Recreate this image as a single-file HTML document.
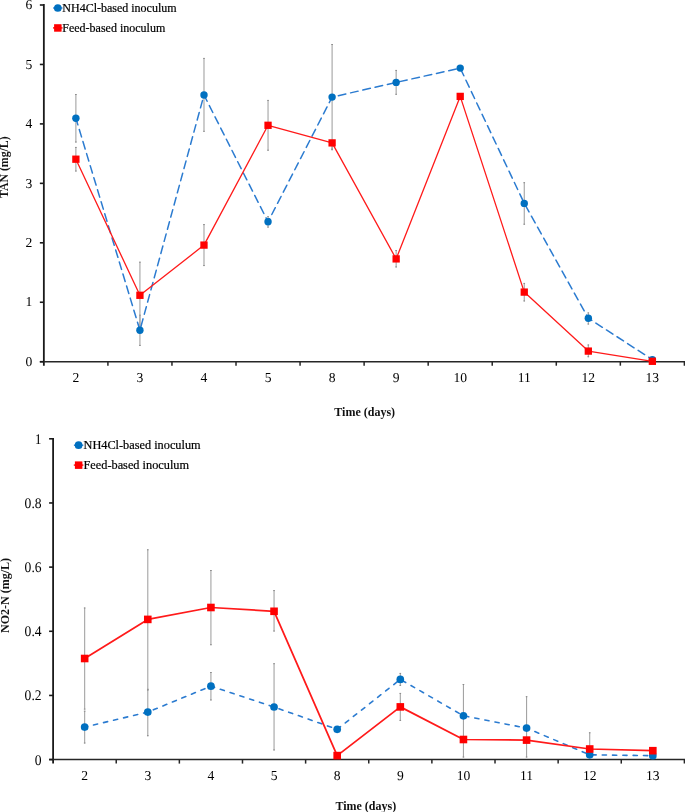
<!DOCTYPE html>
<html><head><meta charset="utf-8"><title>TAN and NO2-N chart</title>
<style>
html,body{margin:0;padding:0;background:#fff;}
body{width:685px;height:812px;overflow:hidden;}
svg{display:block;}
.t{font-family:"Liberation Serif",serif;font-size:13.6px;fill:#000;text-rendering:geometricPrecision;}
.l{font-family:"Liberation Serif",serif;font-size:12px;fill:#000;stroke:#000;stroke-width:0.2px;}
.b{font-family:"Liberation Serif",serif;font-size:12px;font-weight:bold;fill:#111;}
</style></head><body>
<svg width="685" height="812" viewBox="0 0 685 812">
<line x1="75.88" y1="94.00" x2="75.88" y2="142.50" stroke="#a3a3a3" stroke-width="1.1"/>
<line x1="75.08" y1="94.50" x2="76.68" y2="94.50" stroke="#8a8a8a" stroke-width="1"/>
<line x1="75.08" y1="142.00" x2="76.68" y2="142.00" stroke="#8a8a8a" stroke-width="1"/>
<line x1="139.93" y1="314.70" x2="139.93" y2="345.90" stroke="#a3a3a3" stroke-width="1.1"/>
<line x1="139.13" y1="315.20" x2="140.73" y2="315.20" stroke="#8a8a8a" stroke-width="1"/>
<line x1="139.13" y1="345.40" x2="140.73" y2="345.40" stroke="#8a8a8a" stroke-width="1"/>
<line x1="203.99" y1="57.90" x2="203.99" y2="131.80" stroke="#a3a3a3" stroke-width="1.1"/>
<line x1="203.19" y1="58.40" x2="204.79" y2="58.40" stroke="#8a8a8a" stroke-width="1"/>
<line x1="203.19" y1="131.30" x2="204.79" y2="131.30" stroke="#8a8a8a" stroke-width="1"/>
<line x1="268.04" y1="216.20" x2="268.04" y2="227.60" stroke="#a3a3a3" stroke-width="1.1"/>
<line x1="267.24" y1="216.70" x2="268.84" y2="216.70" stroke="#8a8a8a" stroke-width="1"/>
<line x1="267.24" y1="227.10" x2="268.84" y2="227.10" stroke="#8a8a8a" stroke-width="1"/>
<line x1="332.10" y1="44.00" x2="332.10" y2="150.20" stroke="#a3a3a3" stroke-width="1.1"/>
<line x1="331.30" y1="44.50" x2="332.90" y2="44.50" stroke="#8a8a8a" stroke-width="1"/>
<line x1="331.30" y1="149.70" x2="332.90" y2="149.70" stroke="#8a8a8a" stroke-width="1"/>
<line x1="396.15" y1="69.90" x2="396.15" y2="94.80" stroke="#a3a3a3" stroke-width="1.1"/>
<line x1="395.35" y1="70.40" x2="396.95" y2="70.40" stroke="#8a8a8a" stroke-width="1"/>
<line x1="395.35" y1="94.30" x2="396.95" y2="94.30" stroke="#8a8a8a" stroke-width="1"/>
<line x1="524.26" y1="182.20" x2="524.26" y2="224.70" stroke="#a3a3a3" stroke-width="1.1"/>
<line x1="523.46" y1="182.70" x2="525.06" y2="182.70" stroke="#8a8a8a" stroke-width="1"/>
<line x1="523.46" y1="224.20" x2="525.06" y2="224.20" stroke="#8a8a8a" stroke-width="1"/>
<line x1="588.32" y1="312.40" x2="588.32" y2="324.50" stroke="#a3a3a3" stroke-width="1.1"/>
<line x1="587.52" y1="312.90" x2="589.12" y2="312.90" stroke="#8a8a8a" stroke-width="1"/>
<line x1="587.52" y1="324.00" x2="589.12" y2="324.00" stroke="#8a8a8a" stroke-width="1"/>
<line x1="75.88" y1="146.90" x2="75.88" y2="171.50" stroke="#a3a3a3" stroke-width="1.1"/>
<line x1="75.08" y1="147.40" x2="76.68" y2="147.40" stroke="#8a8a8a" stroke-width="1"/>
<line x1="75.08" y1="171.00" x2="76.68" y2="171.00" stroke="#8a8a8a" stroke-width="1"/>
<line x1="139.93" y1="261.70" x2="139.93" y2="328.90" stroke="#a3a3a3" stroke-width="1.1"/>
<line x1="139.13" y1="262.20" x2="140.73" y2="262.20" stroke="#8a8a8a" stroke-width="1"/>
<line x1="139.13" y1="328.40" x2="140.73" y2="328.40" stroke="#8a8a8a" stroke-width="1"/>
<line x1="203.99" y1="224.10" x2="203.99" y2="266.10" stroke="#a3a3a3" stroke-width="1.1"/>
<line x1="203.19" y1="224.60" x2="204.79" y2="224.60" stroke="#8a8a8a" stroke-width="1"/>
<line x1="203.19" y1="265.60" x2="204.79" y2="265.60" stroke="#8a8a8a" stroke-width="1"/>
<line x1="268.04" y1="99.90" x2="268.04" y2="150.70" stroke="#a3a3a3" stroke-width="1.1"/>
<line x1="267.24" y1="100.40" x2="268.84" y2="100.40" stroke="#8a8a8a" stroke-width="1"/>
<line x1="267.24" y1="150.20" x2="268.84" y2="150.20" stroke="#8a8a8a" stroke-width="1"/>
<line x1="332.10" y1="142.90" x2="332.10" y2="149.60" stroke="#a3a3a3" stroke-width="1.1"/>
<line x1="331.30" y1="149.10" x2="332.90" y2="149.10" stroke="#8a8a8a" stroke-width="1"/>
<line x1="396.15" y1="250.00" x2="396.15" y2="267.40" stroke="#a3a3a3" stroke-width="1.1"/>
<line x1="395.35" y1="250.50" x2="396.95" y2="250.50" stroke="#8a8a8a" stroke-width="1"/>
<line x1="395.35" y1="266.90" x2="396.95" y2="266.90" stroke="#8a8a8a" stroke-width="1"/>
<line x1="524.26" y1="282.90" x2="524.26" y2="301.40" stroke="#a3a3a3" stroke-width="1.1"/>
<line x1="523.46" y1="283.40" x2="525.06" y2="283.40" stroke="#8a8a8a" stroke-width="1"/>
<line x1="523.46" y1="300.90" x2="525.06" y2="300.90" stroke="#8a8a8a" stroke-width="1"/>
<line x1="588.32" y1="344.50" x2="588.32" y2="357.20" stroke="#a3a3a3" stroke-width="1.1"/>
<line x1="587.52" y1="345.00" x2="589.12" y2="345.00" stroke="#8a8a8a" stroke-width="1"/>
<line x1="587.52" y1="356.70" x2="589.12" y2="356.70" stroke="#8a8a8a" stroke-width="1"/>
<line x1="43.85" y1="4.10" x2="43.85" y2="365.70" stroke="#1a1a1a" stroke-width="1.8"/>
<line x1="39.85" y1="361.70" x2="685" y2="361.70" stroke="#262626" stroke-width="1.5"/>
<line x1="39.85" y1="361.70" x2="43.85" y2="361.70" stroke="#1a1a1a" stroke-width="1.6"/>
<text transform="translate(32.35,365.90) scale(1,1)" class="t" text-anchor="end">0</text>
<line x1="39.85" y1="302.25" x2="43.85" y2="302.25" stroke="#1a1a1a" stroke-width="1.6"/>
<text transform="translate(32.35,306.45) scale(1,1)" class="t" text-anchor="end">1</text>
<line x1="39.85" y1="242.80" x2="43.85" y2="242.80" stroke="#1a1a1a" stroke-width="1.6"/>
<text transform="translate(32.35,247.00) scale(1,1)" class="t" text-anchor="end">2</text>
<line x1="39.85" y1="183.35" x2="43.85" y2="183.35" stroke="#1a1a1a" stroke-width="1.6"/>
<text transform="translate(32.35,187.55) scale(1,1)" class="t" text-anchor="end">3</text>
<line x1="39.85" y1="123.90" x2="43.85" y2="123.90" stroke="#1a1a1a" stroke-width="1.6"/>
<text transform="translate(32.35,128.10) scale(1,1)" class="t" text-anchor="end">4</text>
<line x1="39.85" y1="64.45" x2="43.85" y2="64.45" stroke="#1a1a1a" stroke-width="1.6"/>
<text transform="translate(32.35,68.65) scale(1,1)" class="t" text-anchor="end">5</text>
<line x1="39.85" y1="5.00" x2="43.85" y2="5.00" stroke="#1a1a1a" stroke-width="1.6"/>
<text transform="translate(32.35,9.20) scale(1,1)" class="t" text-anchor="end">6</text>
<line x1="107.91" y1="361.70" x2="107.91" y2="365.70" stroke="#262626" stroke-width="1.5"/>
<line x1="171.96" y1="361.70" x2="171.96" y2="365.70" stroke="#262626" stroke-width="1.5"/>
<line x1="236.01" y1="361.70" x2="236.01" y2="365.70" stroke="#262626" stroke-width="1.5"/>
<line x1="300.07" y1="361.70" x2="300.07" y2="365.70" stroke="#262626" stroke-width="1.5"/>
<line x1="364.12" y1="361.70" x2="364.12" y2="365.70" stroke="#262626" stroke-width="1.5"/>
<line x1="428.18" y1="361.70" x2="428.18" y2="365.70" stroke="#262626" stroke-width="1.5"/>
<line x1="492.23" y1="361.70" x2="492.23" y2="365.70" stroke="#262626" stroke-width="1.5"/>
<line x1="556.29" y1="361.70" x2="556.29" y2="365.70" stroke="#262626" stroke-width="1.5"/>
<line x1="620.34" y1="361.70" x2="620.34" y2="365.70" stroke="#262626" stroke-width="1.5"/>
<line x1="684.40" y1="361.70" x2="684.40" y2="365.70" stroke="#262626" stroke-width="1.5"/>
<text x="75.88" y="382.20" class="t" text-anchor="middle">2</text>
<text x="139.93" y="382.20" class="t" text-anchor="middle">3</text>
<text x="203.99" y="382.20" class="t" text-anchor="middle">4</text>
<text x="268.04" y="382.20" class="t" text-anchor="middle">5</text>
<text x="332.10" y="382.20" class="t" text-anchor="middle">8</text>
<text x="396.15" y="382.20" class="t" text-anchor="middle">9</text>
<text x="460.21" y="382.20" class="t" text-anchor="middle">10</text>
<text x="524.26" y="382.20" class="t" text-anchor="middle">11</text>
<text x="588.32" y="382.20" class="t" text-anchor="middle">12</text>
<text x="652.37" y="382.20" class="t" text-anchor="middle">13</text>
<polyline points="75.88,118.20 139.93,330.30 203.99,95.00 268.04,221.80 332.10,97.10 396.15,82.40 460.21,68.10 524.26,203.40 588.32,318.20 652.37,359.60" fill="none" stroke="#2b7bd0" stroke-width="1.5" stroke-dasharray="7.7,4.88" stroke-dashoffset="0.75" stroke-linecap="round"/>
<circle cx="75.88" cy="118.20" r="3.7" fill="#0070c0"/>
<circle cx="139.93" cy="330.30" r="3.7" fill="#0070c0"/>
<circle cx="203.99" cy="95.00" r="3.7" fill="#0070c0"/>
<circle cx="268.04" cy="221.80" r="3.7" fill="#0070c0"/>
<circle cx="332.10" cy="97.10" r="3.7" fill="#0070c0"/>
<circle cx="396.15" cy="82.40" r="3.7" fill="#0070c0"/>
<circle cx="460.21" cy="68.10" r="3.7" fill="#0070c0"/>
<circle cx="524.26" cy="203.40" r="3.7" fill="#0070c0"/>
<circle cx="588.32" cy="318.20" r="3.7" fill="#0070c0"/>
<circle cx="652.37" cy="359.60" r="3.7" fill="#0070c0"/>
<polyline points="75.88,159.20 139.93,295.30 203.99,245.10 268.04,125.30 332.10,142.90 396.15,258.90 460.21,96.40 524.26,292.10 588.32,351.10 652.37,361.30" fill="none" stroke="#ff1a1a" stroke-width="1.3" stroke-linejoin="round"/>
<rect x="72.23" y="155.55" width="7.3" height="7.3" fill="#ff0000"/>
<rect x="136.28" y="291.65" width="7.3" height="7.3" fill="#ff0000"/>
<rect x="200.34" y="241.45" width="7.3" height="7.3" fill="#ff0000"/>
<rect x="264.39" y="121.65" width="7.3" height="7.3" fill="#ff0000"/>
<rect x="328.45" y="139.25" width="7.3" height="7.3" fill="#ff0000"/>
<rect x="392.50" y="255.25" width="7.3" height="7.3" fill="#ff0000"/>
<rect x="456.56" y="92.75" width="7.3" height="7.3" fill="#ff0000"/>
<rect x="520.61" y="288.45" width="7.3" height="7.3" fill="#ff0000"/>
<rect x="584.67" y="347.45" width="7.3" height="7.3" fill="#ff0000"/>
<rect x="648.72" y="357.65" width="7.3" height="7.3" fill="#ff0000"/>
<text transform="translate(8.4,167.20) rotate(-90)" class="b" text-anchor="middle" style="font-size:11.8px">TAN (mg/L)</text>
<text x="364.7" y="415.50" class="b" text-anchor="middle">Time (days)</text>
<line x1="53.10" y1="8.00" x2="62.50" y2="8.00" stroke="#2b7bd0" stroke-width="1.4"/>
<circle cx="57.80" cy="8.00" r="3.85" fill="#0070c0"/>
<text x="62.30" y="11.80" class="l" style="font-size:12px">NH4Cl-based inoculum</text>
<line x1="53.00" y1="27.90" x2="62.60" y2="27.90" stroke="#ff1a1a" stroke-width="1.5"/>
<rect x="54.10" y="24.20" width="7.5" height="7.5" fill="#ff0000"/>
<text x="62.30" y="31.80" class="l" style="font-size:12px">Feed-based inoculum</text>
<line x1="84.66" y1="710.70" x2="84.66" y2="743.50" stroke="#a3a3a3" stroke-width="1.1"/>
<line x1="83.86" y1="711.20" x2="85.46" y2="711.20" stroke="#8a8a8a" stroke-width="1"/>
<line x1="83.86" y1="743.00" x2="85.46" y2="743.00" stroke="#8a8a8a" stroke-width="1"/>
<line x1="147.79" y1="688.80" x2="147.79" y2="736.20" stroke="#a3a3a3" stroke-width="1.1"/>
<line x1="146.99" y1="689.30" x2="148.59" y2="689.30" stroke="#8a8a8a" stroke-width="1"/>
<line x1="146.99" y1="735.70" x2="148.59" y2="735.70" stroke="#8a8a8a" stroke-width="1"/>
<line x1="210.92" y1="672.00" x2="210.92" y2="700.40" stroke="#a3a3a3" stroke-width="1.1"/>
<line x1="210.12" y1="672.50" x2="211.72" y2="672.50" stroke="#8a8a8a" stroke-width="1"/>
<line x1="210.12" y1="699.90" x2="211.72" y2="699.90" stroke="#8a8a8a" stroke-width="1"/>
<line x1="274.06" y1="663.20" x2="274.06" y2="750.40" stroke="#a3a3a3" stroke-width="1.1"/>
<line x1="273.25" y1="663.70" x2="274.86" y2="663.70" stroke="#8a8a8a" stroke-width="1"/>
<line x1="273.25" y1="749.90" x2="274.86" y2="749.90" stroke="#8a8a8a" stroke-width="1"/>
<line x1="400.31" y1="672.90" x2="400.31" y2="685.90" stroke="#a3a3a3" stroke-width="1.1"/>
<line x1="399.51" y1="673.40" x2="401.12" y2="673.40" stroke="#8a8a8a" stroke-width="1"/>
<line x1="399.51" y1="685.40" x2="401.12" y2="685.40" stroke="#8a8a8a" stroke-width="1"/>
<line x1="463.44" y1="684.00" x2="463.44" y2="757.50" stroke="#a3a3a3" stroke-width="1.1"/>
<line x1="462.64" y1="684.50" x2="464.25" y2="684.50" stroke="#8a8a8a" stroke-width="1"/>
<line x1="462.64" y1="757.00" x2="464.25" y2="757.00" stroke="#8a8a8a" stroke-width="1"/>
<line x1="526.57" y1="696.20" x2="526.57" y2="757.50" stroke="#a3a3a3" stroke-width="1.1"/>
<line x1="525.77" y1="696.70" x2="527.37" y2="696.70" stroke="#8a8a8a" stroke-width="1"/>
<line x1="525.77" y1="757.00" x2="527.37" y2="757.00" stroke="#8a8a8a" stroke-width="1"/>
<line x1="84.66" y1="607.50" x2="84.66" y2="709.60" stroke="#a3a3a3" stroke-width="1.1"/>
<line x1="83.86" y1="608.00" x2="85.46" y2="608.00" stroke="#8a8a8a" stroke-width="1"/>
<line x1="83.86" y1="709.10" x2="85.46" y2="709.10" stroke="#8a8a8a" stroke-width="1"/>
<line x1="147.79" y1="549.30" x2="147.79" y2="690.50" stroke="#a3a3a3" stroke-width="1.1"/>
<line x1="146.99" y1="549.80" x2="148.59" y2="549.80" stroke="#8a8a8a" stroke-width="1"/>
<line x1="146.99" y1="690.00" x2="148.59" y2="690.00" stroke="#8a8a8a" stroke-width="1"/>
<line x1="210.92" y1="570.00" x2="210.92" y2="645.20" stroke="#a3a3a3" stroke-width="1.1"/>
<line x1="210.12" y1="570.50" x2="211.72" y2="570.50" stroke="#8a8a8a" stroke-width="1"/>
<line x1="210.12" y1="644.70" x2="211.72" y2="644.70" stroke="#8a8a8a" stroke-width="1"/>
<line x1="274.06" y1="590.10" x2="274.06" y2="631.50" stroke="#a3a3a3" stroke-width="1.1"/>
<line x1="273.25" y1="590.60" x2="274.86" y2="590.60" stroke="#8a8a8a" stroke-width="1"/>
<line x1="273.25" y1="631.00" x2="274.86" y2="631.00" stroke="#8a8a8a" stroke-width="1"/>
<line x1="400.31" y1="692.90" x2="400.31" y2="720.90" stroke="#a3a3a3" stroke-width="1.1"/>
<line x1="399.51" y1="693.40" x2="401.12" y2="693.40" stroke="#8a8a8a" stroke-width="1"/>
<line x1="399.51" y1="720.40" x2="401.12" y2="720.40" stroke="#8a8a8a" stroke-width="1"/>
<line x1="589.71" y1="732.30" x2="589.71" y2="749.00" stroke="#a3a3a3" stroke-width="1.1"/>
<line x1="588.91" y1="732.80" x2="590.50" y2="732.80" stroke="#8a8a8a" stroke-width="1"/>
<line x1="53.10" y1="437.90" x2="53.10" y2="763.60" stroke="#1a1a1a" stroke-width="1.8"/>
<line x1="49.10" y1="759.60" x2="685" y2="759.60" stroke="#262626" stroke-width="1.5"/>
<line x1="49.10" y1="759.60" x2="53.10" y2="759.60" stroke="#1a1a1a" stroke-width="1.6"/>
<text transform="translate(41.60,764.50) scale(1,1.08)" class="t" text-anchor="end">0</text>
<line x1="49.10" y1="695.44" x2="53.10" y2="695.44" stroke="#1a1a1a" stroke-width="1.6"/>
<text transform="translate(41.60,700.34) scale(1,1.08)" class="t" text-anchor="end">0.2</text>
<line x1="49.10" y1="631.28" x2="53.10" y2="631.28" stroke="#1a1a1a" stroke-width="1.6"/>
<text transform="translate(41.60,636.18) scale(1,1.08)" class="t" text-anchor="end">0.4</text>
<line x1="49.10" y1="567.12" x2="53.10" y2="567.12" stroke="#1a1a1a" stroke-width="1.6"/>
<text transform="translate(41.60,572.02) scale(1,1.08)" class="t" text-anchor="end">0.6</text>
<line x1="49.10" y1="502.96" x2="53.10" y2="502.96" stroke="#1a1a1a" stroke-width="1.6"/>
<text transform="translate(41.60,507.86) scale(1,1.08)" class="t" text-anchor="end">0.8</text>
<line x1="49.10" y1="438.80" x2="53.10" y2="438.80" stroke="#1a1a1a" stroke-width="1.6"/>
<text transform="translate(41.60,443.70) scale(1,1.08)" class="t" text-anchor="end">1</text>
<line x1="116.23" y1="759.60" x2="116.23" y2="763.60" stroke="#262626" stroke-width="1.5"/>
<line x1="179.36" y1="759.60" x2="179.36" y2="763.60" stroke="#262626" stroke-width="1.5"/>
<line x1="242.49" y1="759.60" x2="242.49" y2="763.60" stroke="#262626" stroke-width="1.5"/>
<line x1="305.62" y1="759.60" x2="305.62" y2="763.60" stroke="#262626" stroke-width="1.5"/>
<line x1="368.75" y1="759.60" x2="368.75" y2="763.60" stroke="#262626" stroke-width="1.5"/>
<line x1="431.88" y1="759.60" x2="431.88" y2="763.60" stroke="#262626" stroke-width="1.5"/>
<line x1="495.01" y1="759.60" x2="495.01" y2="763.60" stroke="#262626" stroke-width="1.5"/>
<line x1="558.14" y1="759.60" x2="558.14" y2="763.60" stroke="#262626" stroke-width="1.5"/>
<line x1="621.27" y1="759.60" x2="621.27" y2="763.60" stroke="#262626" stroke-width="1.5"/>
<line x1="684.40" y1="759.60" x2="684.40" y2="763.60" stroke="#262626" stroke-width="1.5"/>
<text x="84.66" y="780.10" class="t" text-anchor="middle">2</text>
<text x="147.79" y="780.10" class="t" text-anchor="middle">3</text>
<text x="210.92" y="780.10" class="t" text-anchor="middle">4</text>
<text x="274.06" y="780.10" class="t" text-anchor="middle">5</text>
<text x="337.19" y="780.10" class="t" text-anchor="middle">8</text>
<text x="400.31" y="780.10" class="t" text-anchor="middle">9</text>
<text x="463.44" y="780.10" class="t" text-anchor="middle">10</text>
<text x="526.57" y="780.10" class="t" text-anchor="middle">11</text>
<text x="589.71" y="780.10" class="t" text-anchor="middle">12</text>
<text x="652.83" y="780.10" class="t" text-anchor="middle">13</text>
<polyline points="84.66,727.10 147.79,712.10 210.92,686.20 274.06,707.00 337.19,729.30 400.31,679.40 463.44,715.80 526.57,728.10 589.71,754.80 652.83,755.70" fill="none" stroke="#2b7bd0" stroke-width="1.6" stroke-dasharray="4.2,6.1" stroke-dashoffset="1.20" stroke-linecap="round"/>
<circle cx="84.66" cy="727.10" r="3.85" fill="#0070c0"/>
<circle cx="147.79" cy="712.10" r="3.85" fill="#0070c0"/>
<circle cx="210.92" cy="686.20" r="3.85" fill="#0070c0"/>
<circle cx="274.06" cy="707.00" r="3.85" fill="#0070c0"/>
<circle cx="337.19" cy="729.30" r="3.85" fill="#0070c0"/>
<circle cx="400.31" cy="679.40" r="3.85" fill="#0070c0"/>
<circle cx="463.44" cy="715.80" r="3.85" fill="#0070c0"/>
<circle cx="526.57" cy="728.10" r="3.85" fill="#0070c0"/>
<circle cx="589.71" cy="754.80" r="3.85" fill="#0070c0"/>
<circle cx="652.83" cy="755.70" r="3.85" fill="#0070c0"/>
<polyline points="84.66,658.50 147.79,619.40 210.92,607.50 274.06,611.30 337.19,755.60 400.31,706.90 463.44,739.50 526.57,740.10 589.71,749.00 652.83,750.70" fill="none" stroke="#ff1a1a" stroke-width="1.75" stroke-linejoin="round"/>
<rect x="80.86" y="654.70" width="7.6" height="7.6" fill="#ff0000"/>
<rect x="143.99" y="615.60" width="7.6" height="7.6" fill="#ff0000"/>
<rect x="207.12" y="603.70" width="7.6" height="7.6" fill="#ff0000"/>
<rect x="270.25" y="607.50" width="7.6" height="7.6" fill="#ff0000"/>
<rect x="333.38" y="751.80" width="7.6" height="7.6" fill="#ff0000"/>
<rect x="396.51" y="703.10" width="7.6" height="7.6" fill="#ff0000"/>
<rect x="459.64" y="735.70" width="7.6" height="7.6" fill="#ff0000"/>
<rect x="522.77" y="736.30" width="7.6" height="7.6" fill="#ff0000"/>
<rect x="585.91" y="745.20" width="7.6" height="7.6" fill="#ff0000"/>
<rect x="649.03" y="746.90" width="7.6" height="7.6" fill="#ff0000"/>
<text transform="translate(8.6,595.50) rotate(-90)" class="b" text-anchor="middle" style="font-size:12px">NO2-N (mg/L)</text>
<text x="365.8" y="809.90" class="b" text-anchor="middle">Time (days)</text>
<line x1="73.90" y1="445.20" x2="83.30" y2="445.20" stroke="#2b7bd0" stroke-width="1.4"/>
<circle cx="78.60" cy="445.20" r="3.85" fill="#0070c0"/>
<text x="83.50" y="449.00" class="l" style="font-size:12.3px">NH4Cl-based inoculum</text>
<line x1="73.80" y1="465.10" x2="83.40" y2="465.10" stroke="#ff1a1a" stroke-width="1.5"/>
<rect x="74.90" y="461.40" width="7.5" height="7.5" fill="#ff0000"/>
<text x="83.50" y="469.00" class="l" style="font-size:12.3px">Feed-based inoculum</text>
</svg>
</body></html>
